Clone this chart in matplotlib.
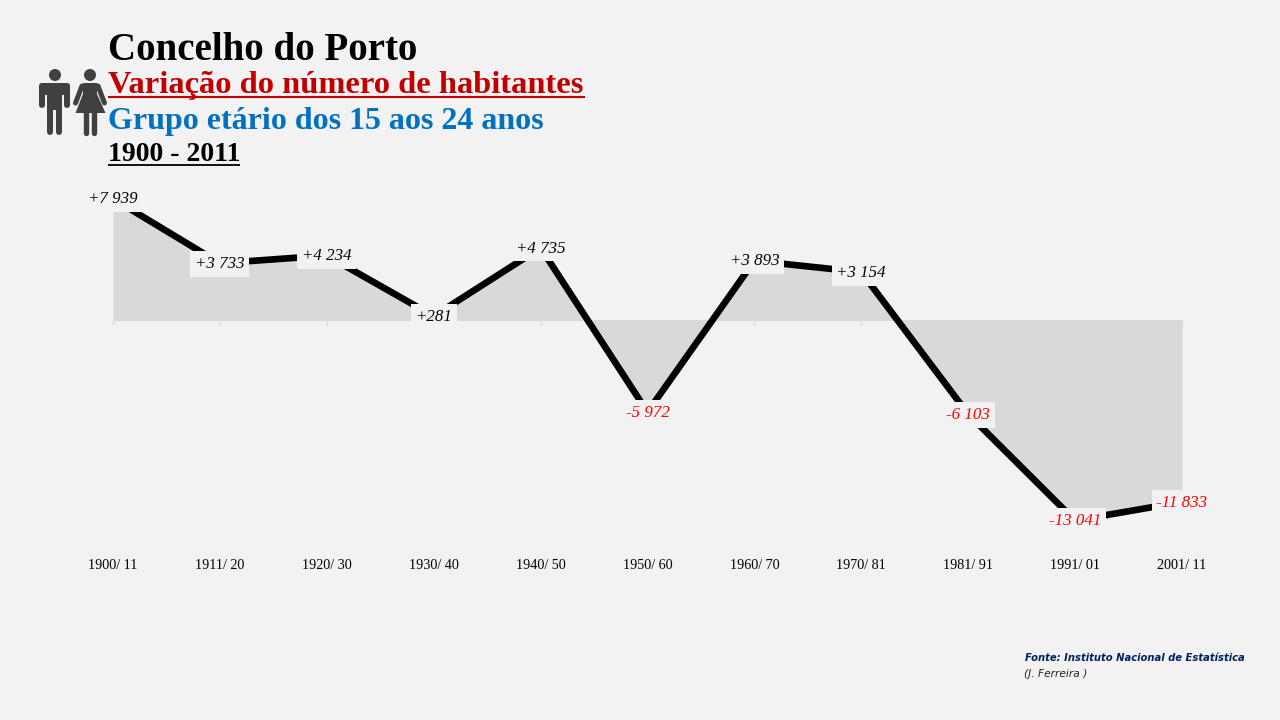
"""Concelho do Porto: population change of the 15-24 age group, 1900-2011."""

import matplotlib

matplotlib.use("Agg")
import matplotlib.pyplot as plt
from matplotlib.patches import Circle, FancyBboxPatch, Polygon

BG = "#f2f2f2"
SERIF = "Liberation Serif"
ICON = "#404040"

periods = ["1900/ 11", "1911/ 20", "1920/ 30", "1930/ 40", "1940/ 50", "1950/ 60",
           "1960/ 70", "1970/ 81", "1981/ 91", "1991/ 01", "2001/ 11"]
changes = [7939, 3733, 4234, 281, 4735, -5972, 3893, 3154, -6103, -13041, -11833]
value_labels = ["+7 939", "+3 733", "+4 234", "+281", "+4 735", "-5 972",
                "+3 893", "+3 154", "-6 103", "-13 041", "-11 833"]
xs = list(range(len(changes)))

fig = plt.figure(figsize=(12.8, 7.2), dpi=100, facecolor=BG)

# Chart axes: pixel box chosen so zero sits at y=320.5
ax = fig.add_axes([113 / 1280, (720 - 520.5) / 720, (1182 - 113) / 1280, (520.5 - 198.7) / 720])
ax.set_facecolor("none")
ax.set_xlim(0, 10)
ax.set_ylim(min(changes), max(changes))

ax.fill_between(xs, changes, 0, color="#d9d9d9", lw=0, zorder=1)
ax.plot(xs, changes, color="black", lw=4.8, solid_capstyle="butt",
        solid_joinstyle="miter", clip_on=False, zorder=2)

for x, val, lab in zip(xs, changes, value_labels):
    ax.annotate(lab, (x, val), xytext=(0, -0.5), textcoords="offset points",
                ha="center", va="center", family=SERIF, style="italic",
                fontsize=12.2, color="black" if val > 0 else "#ff0000", zorder=3,
                annotation_clip=False,
                bbox=dict(boxstyle="square,pad=0.28", fc=BG, ec="none"))

for side in ("top", "left", "right"):
    ax.spines[side].set_visible(False)
ax.spines["bottom"].set_position(("data", 0))
ax.spines["bottom"].set_color("#d9d9d9")
ax.spines["bottom"].set_zorder(1.5)
ax.set_yticks([])
ax.set_xticks(xs)
ax.set_xticklabels(periods, family=SERIF, fontsize=10.2, color="black")
ax.tick_params(axis="x", length=3.6, width=0.8, color="#d9d9d9", pad=168)

# Overlay in pixel coordinates for the header, icons and source note
top = fig.add_axes([0, 0, 1, 1], zorder=5)
top.set_xlim(0, 1280)
top.set_ylim(720, 0)
top.axis("off")

top.text(108, 59.5, "Concelho do Porto", family=SERIF, weight="bold", fontsize=28,
         color="black", va="baseline", ha="left")
top.text(108, 93.5, "Variação do número de habitantes", family=SERIF, weight="bold", fontsize=23.4,
         color="#c00000", va="baseline", ha="left")
top.plot([108, 585], [97, 97], color="#c00000", lw=1.5, solid_capstyle="butt")
top.text(108, 128.5, "Grupo etário dos 15 aos 24 anos", family=SERIF, weight="bold", fontsize=23,
         color="#0070c0", va="baseline", ha="left")
top.text(108, 161, "1900 - 2011", family=SERIF, weight="bold", fontsize=20,
         color="black", va="baseline", ha="left")
top.plot([108, 240], [164.5, 164.5], color="black", lw=1.3, solid_capstyle="butt")

top.text(1025, 658, "Fonte: Instituto Nacional de Estatística", family="DejaVu Sans",
         weight="bold", style="italic", fontsize=7.2, color="#002060", va="center", ha="left")
top.text(1024, 674, "(J. Ferreira )", family="DejaVu Sans", style="italic", fontsize=7.7,
         color="#222222", va="center", ha="left")


def limb(x0, y0, x1, y1, width):
    """Round-ended stroke for arms and legs of the pictograms."""
    top.plot([x0, x1], [y0, y1], color=ICON, lw=width * 0.72, solid_capstyle="round")


# Man
top.add_patch(Circle((55, 75), 6, fc=ICON, ec="none"))
top.add_patch(FancyBboxPatch((42, 86), 25, 6, boxstyle="round,pad=3", fc=ICON, ec="none"))
top.add_patch(Polygon([[47.3, 88], [62.3, 88], [62.3, 110], [47.3, 110]], closed=True, fc=ICON, ec="none"))
limb(42.3, 89, 42.3, 105, 6)
limb(67, 89, 67, 105, 6)
limb(50.3, 108, 50.3, 132, 6)
limb(59.2, 108, 59.2, 132, 6)

# Woman
top.add_patch(Circle((90, 75), 6, fc=ICON, ec="none"))
top.add_patch(Polygon([[83, 83], [97, 83], [97, 94], [105.5, 113], [75.5, 113], [83, 94]],
                      closed=True, fc=ICON, ec="none"))
limb(82, 86, 75.5, 103, 5)
limb(98, 86, 104.5, 103, 5)
limb(86, 112, 86, 132.5, 5.4)
limb(94.2, 112, 94.2, 132.5, 5.4)

fig.savefig("out.png", dpi=100, facecolor=BG)
